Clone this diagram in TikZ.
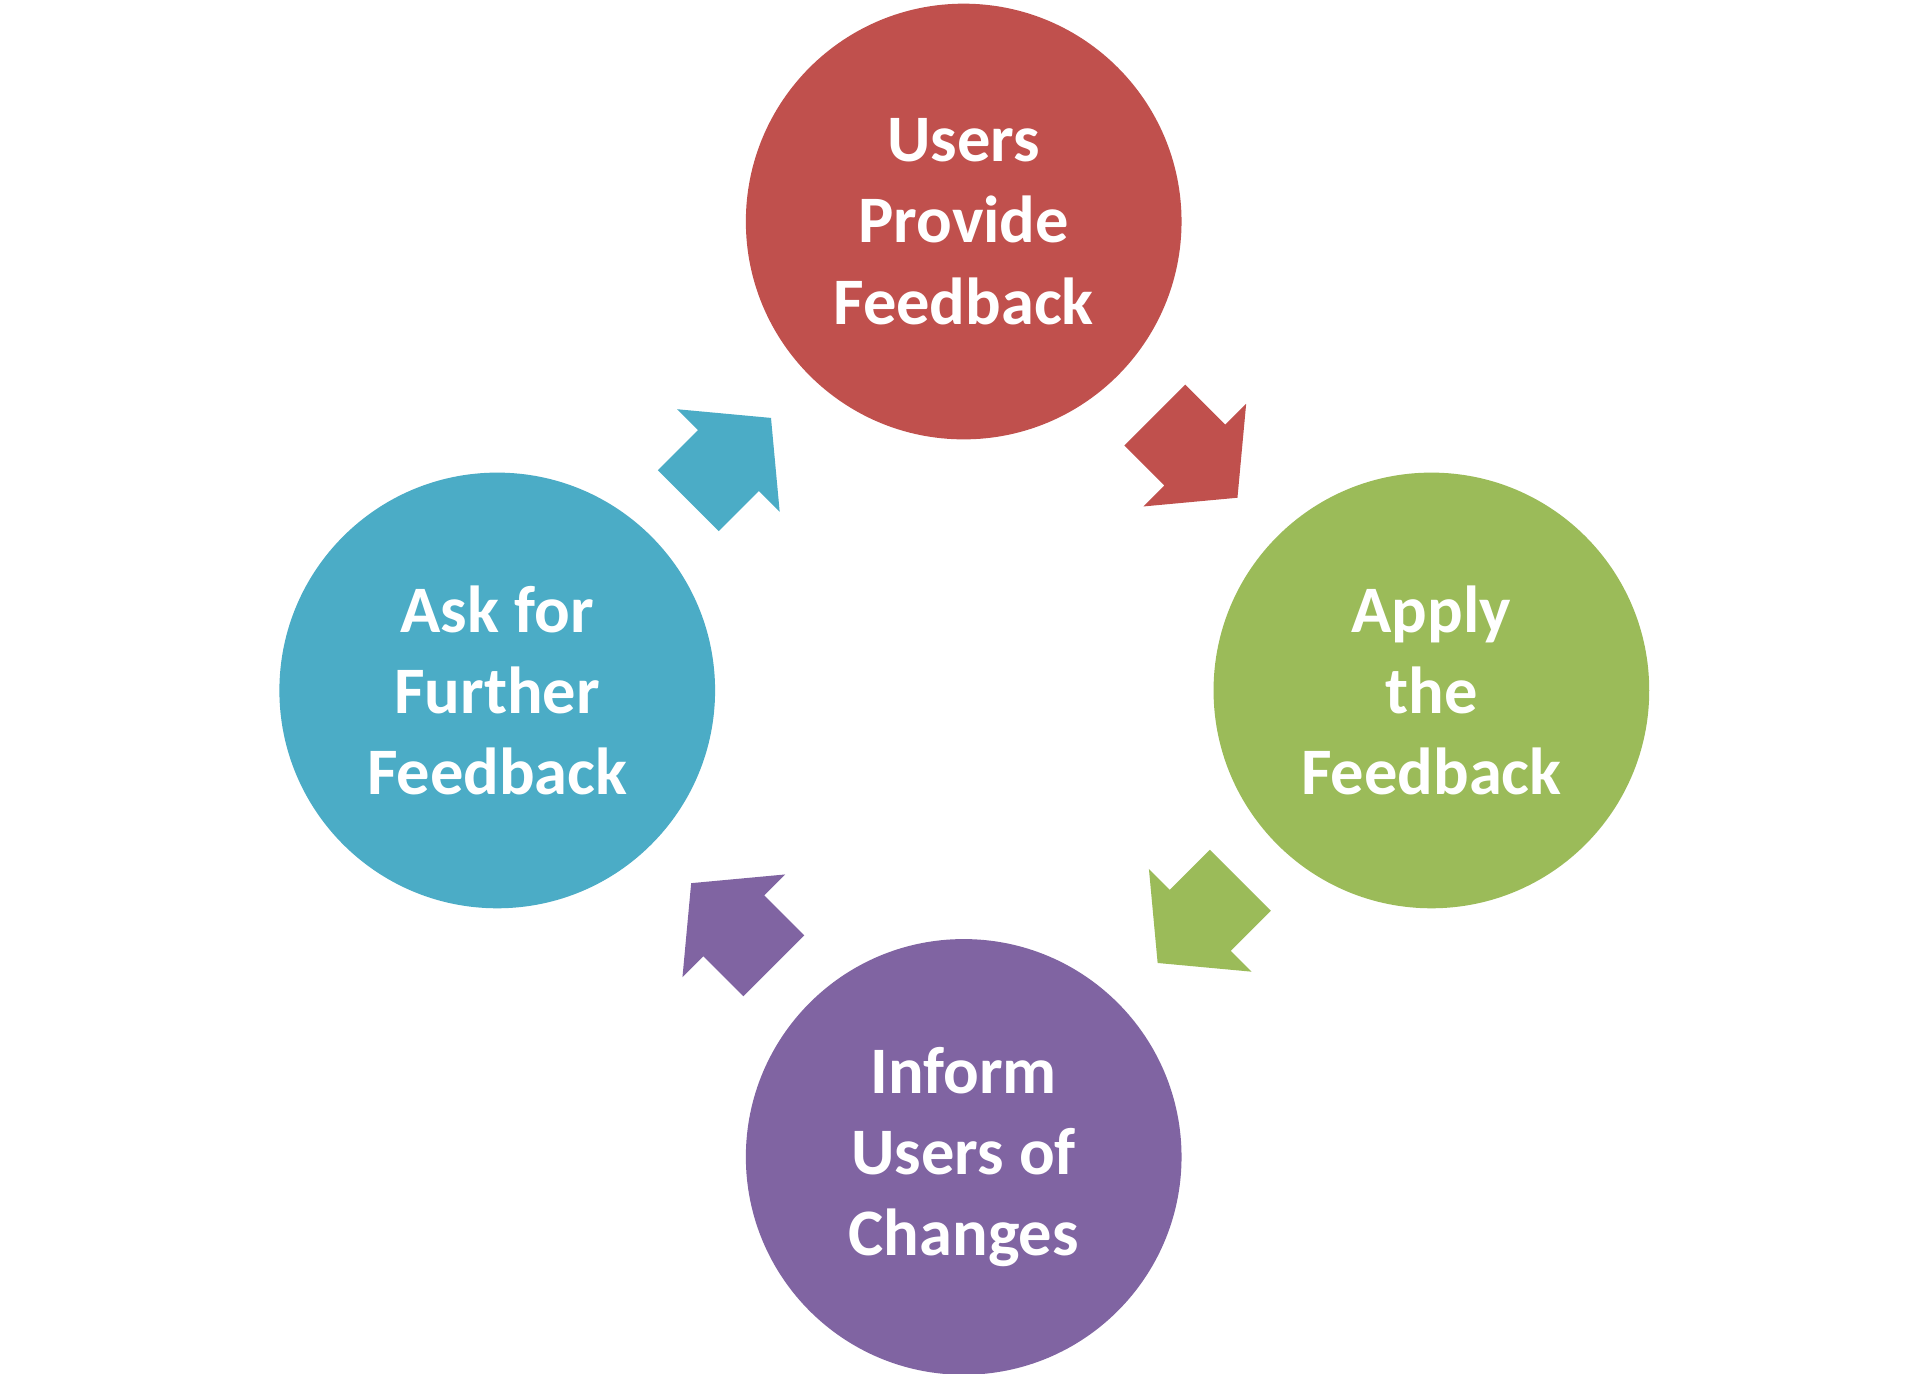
\documentclass[tikz,border=0pt]{standalone}
\usepackage{fontspec}
\setmainfont{Carlito}
\definecolor{cred}{HTML}{C0504D}
\definecolor{cgreen}{HTML}{9BBB59}
\definecolor{cpurple}{HTML}{8064A2}
\definecolor{cblue}{HTML}{4BACC6}
\tikzset{
  stage/.style={circle, minimum size=354pt, inner sep=0pt, text=white, align=center,
    font=\bfseries\fontsize{54}{66}\selectfont},
  blockarrow/.pic={\fill (-35,-35) -- (11,-35) -- (11,-59) -- (60,0) -- (11,59) -- (11,35) -- (-35,35) -- cycle;}
}
\begin{document}
\begin{tikzpicture}[x=1pt,y=1pt]
\useasboundingbox (0,0) rectangle (1560,1116);
\fill[white] (0,0) rectangle (1560,1116);
\node[stage, fill=cred] (top) at (783,936) {Users\\Provide\\Feedback};
\node[stage, fill=cgreen] (right) at (1163,555) {Apply\\the\\Feedback};
\node[stage, fill=cpurple] (bottom) at (783,176) {Inform\\Users of\\Changes};
\node[stage, fill=cblue] (left) at (404,555) {Ask for\\Further\\Feedback};
\pic[fill=cred, rotate=-45] at (963,754) {blockarrow};
\pic[fill=cgreen, rotate=-135] at (983,376) {blockarrow};
\pic[fill=cpurple, rotate=135] at (604,356) {blockarrow};
\pic[fill=cblue, rotate=45] at (584,734) {blockarrow};
\end{tikzpicture}
\end{document}
